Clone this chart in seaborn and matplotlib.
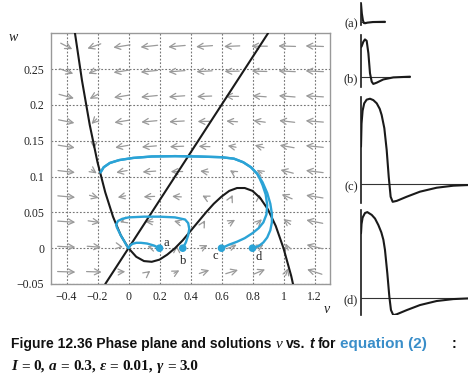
import numpy as np
import pandas as pd
import seaborn as sns
import matplotlib
matplotlib.use('Agg')
import matplotlib.pyplot as plt
from matplotlib.transforms import blended_transform_factory

# ---- values ----
# cubic nullcline (dv/dt = 0)
cubic_v = [-0.35, -0.30, -0.25, -0.20, -0.15, -0.10, -0.05, 0.00, 0.05, 0.10, 0.15,
           0.20, 0.25, 0.30, 0.35, 0.40, 0.45, 0.50, 0.55, 0.60, 0.65, 0.70, 0.75,
           0.80, 0.85, 0.90, 0.95, 1.00, 1.05, 1.10]
cubic_w = [0.307, 0.234, 0.172, 0.120, 0.078, 0.044, 0.018, 0.000, -0.012, -0.018, -0.019,
           -0.016, -0.009, 0.000, 0.011, 0.024, 0.037, 0.050, 0.062, 0.072, 0.080, 0.084, 0.084,
           0.080, 0.070, 0.054, 0.031, 0.000, -0.039, -0.088]
# straight nullcline (dw/dt = 0)
line_v = [-0.15, 0.90]
line_w = [-0.05, 0.30]

# trajectories from the four starting points
traj_a_v = [0.20, 0.16, 0.12, 0.08, 0.05, 0.025, 0.01, 0.0]
traj_a_w = [0.0, 0.004, 0.0065, 0.0075, 0.0075, 0.006, 0.0035, 0.0]
traj_b_v = [0.35, 0.37, 0.385, 0.392, 0.385, 0.365, 0.30, 0.20, 0.10, 0.0, -0.04, -0.068,
            -0.08, -0.075, -0.05, -0.03, -0.01, 0.0]
traj_b_w = [0.0, 0.008, 0.018, 0.027, 0.035, 0.040, 0.043, 0.044, 0.044, 0.043, 0.041, 0.038,
            0.033, 0.029, 0.018, 0.0106, 0.003, 0.0]
loop_v = [0.83, 0.79, 0.74, 0.68, 0.60, 0.45, 0.30, 0.15, 0.03, -0.06, -0.12, -0.16, -0.18]
loop_w = [0.104, 0.113, 0.120, 0.125, 0.127, 0.128, 0.1285, 0.128, 0.126, 0.123, 0.119, 0.113, 0.106]
traj_c_v = [0.60, 0.65, 0.70, 0.75, 0.80, 0.84, 0.87, 0.89, 0.895, 0.885, 0.865, 0.845] + loop_v
traj_c_w = [0.0, 0.005, 0.009, 0.014, 0.021, 0.028, 0.036, 0.047, 0.060, 0.075, 0.088, 0.098] + loop_w
traj_d_v = [0.80, 0.84, 0.87, 0.895, 0.915, 0.925, 0.925, 0.915, 0.895, 0.865] + loop_v
traj_d_w = [0.0, 0.003, 0.008, 0.015, 0.025, 0.036, 0.048, 0.062, 0.077, 0.092] + loop_w

start_v = [0.20, 0.35, 0.60, 0.80]
start_w = [0.0, 0.0, 0.0, 0.0]
start_lbl = ['a', 'b', 'c', 'd']

# direction field (rows follow grid_w, columns follow grid_v)
grid_v = [-0.4, -0.222, -0.044, 0.133, 0.311, 0.489, 0.667, 0.844, 1.022, 1.2]
grid_w = [-0.033, 0.002, 0.037, 0.072, 0.107, 0.142, 0.177, 0.212, 0.247, 0.282]
dv_dt = [
    [0.425, 0.175, 0.049, 0.014, 0.035, 0.080, 0.115, 0.105, 0.017, -0.183],
    [0.390, 0.140, 0.014, -0.021, 0.000, 0.045, 0.080, 0.070, -0.018, -0.218],
    [0.355, 0.105, -0.021, -0.056, -0.035, 0.010, 0.045, 0.035, -0.053, -0.253],
    [0.320, 0.070, -0.056, -0.091, -0.070, -0.025, 0.010, 0.000, -0.088, -0.288],
    [0.285, 0.035, -0.091, -0.126, -0.105, -0.060, -0.025, -0.035, -0.123, -0.323],
    [0.250, 0.000, -0.126, -0.161, -0.140, -0.095, -0.060, -0.070, -0.158, -0.358],
    [0.215, -0.035, -0.161, -0.196, -0.175, -0.130, -0.095, -0.105, -0.193, -0.393],
    [0.180, -0.070, -0.196, -0.231, -0.210, -0.165, -0.130, -0.140, -0.228, -0.428],
    [0.145, -0.105, -0.231, -0.266, -0.245, -0.200, -0.165, -0.175, -0.263, -0.463],
    [0.110, -0.140, -0.266, -0.301, -0.280, -0.235, -0.200, -0.210, -0.298, -0.498],
]
# dw/dt, in units of 0.01
dw_dt_x100 = [
    [-0.301, -0.123, 0.055, 0.232, 0.410, 0.588, 0.766, 0.943, 1.121, 1.299],
    [-0.406, -0.228, -0.050, 0.127, 0.305, 0.483, 0.661, 0.838, 1.016, 1.194],
    [-0.511, -0.333, -0.155, 0.022, 0.200, 0.378, 0.556, 0.733, 0.911, 1.089],
    [-0.616, -0.438, -0.260, -0.083, 0.095, 0.273, 0.451, 0.628, 0.806, 0.984],
    [-0.721, -0.543, -0.365, -0.188, -0.010, 0.168, 0.346, 0.523, 0.701, 0.879],
    [-0.826, -0.648, -0.470, -0.293, -0.115, 0.063, 0.241, 0.418, 0.596, 0.774],
    [-0.931, -0.753, -0.575, -0.398, -0.220, -0.042, 0.136, 0.313, 0.491, 0.669],
    [-1.036, -0.858, -0.680, -0.503, -0.325, -0.147, 0.031, 0.208, 0.386, 0.564],
    [-1.141, -0.963, -0.785, -0.608, -0.430, -0.252, -0.074, 0.103, 0.281, 0.459],
    [-1.246, -1.068, -0.890, -0.713, -0.535, -0.357, -0.179, -0.002, 0.176, 0.354],
]

x_ticks = [-0.4, -0.2, 0.0, 0.2, 0.4, 0.6, 0.8, 1.0, 1.2]
x_tick_labels = ['\u22120.4', '\u22120.2', '0', '0.2', '0.4', '0.6', '0.8', '1', '1.2']
y_ticks = [-0.05, 0.0, 0.05, 0.1, 0.15, 0.2, 0.25]
y_tick_labels = ['\u22120.05', '0', '0.05', '0.1', '0.15', '0.2', '0.25']

# v vs t panels
ts_a_t = [0, 0.8, 1.8, 2.8, 4.0, 6.0, 11.0, 22.4]
ts_a_v = [0.20, 0.09, 0.015, -0.015, -0.016, -0.010, -0.003, 0.0]
ts_b_t = [0, 0.6, 2.2, 3.7, 5.3, 6.9, 8.4, 10.0, 11.5, 14.7, 20.9, 30.2, 45.8]
ts_b_v = [0.32, 0.33, 0.38, 0.405, 0.39, 0.254, 0.037, -0.054, -0.079, -0.065, -0.030, -0.008, 0.0]
ts_c_t = [0, 0.5, 1.5, 3.0, 5.3, 8.4, 11.5, 14.7, 17.5, 19.3, 21.8, 24.0, 25.9, 27.7, 29.6,
          33.4, 42.7, 55.1, 70.7, 86.3, 100]
ts_c_v = [0.41, 0.66, 0.80, 0.88, 0.92, 0.93, 0.915, 0.88, 0.82, 0.753, 0.61, 0.373, 0.083,
          -0.135, -0.19, -0.18, -0.135, -0.08, -0.037, -0.015, -0.008]
ts_d_t = [0, 0.5, 1.5, 3.7, 5.9, 10.0, 13.1, 16.2, 19.0, 20.9, 22.4, 24.6, 26.5, 28.0, 30.2,
          33.4, 42.7, 55.1, 70.7, 86.3, 100]
ts_d_v = [0.70, 0.80, 0.87, 0.92, 0.93, 0.90, 0.86, 0.79, 0.71, 0.63, 0.52, 0.265, 0.01,
          -0.134, -0.19, -0.18, -0.135, -0.08, -0.036, -0.015, -0.008]

# ---- drawing ----
sns.set_theme(style='white')
plt.rcParams['font.family'] = ['Liberation Serif', 'DejaVu Serif']
plt.rcParams['axes.unicode_minus'] = True

W, H = 474, 377
fig = plt.figure(figsize=(W / 100, H / 100), dpi=100)
fig.patch.set_facecolor('white')

blue = '#2ba3d6'
ax = fig.add_axes([51 / W, 93 / H, 279 / W, 250.7 / H])
ax.set_xlim(-0.5, 1.3)
ax.set_ylim(-0.05, 0.3)
ax.set_xticks(x_ticks)
ax.set_xticklabels(x_tick_labels)
ax.set_yticks(y_ticks)
ax.set_yticklabels(y_tick_labels)
ax.tick_params(length=0, labelsize=8.5, colors='#222222', pad=5)
ax.grid(True, linestyle=(0, (1.6, 1.6)), color='#777777', linewidth=0.8)
ax.set_axisbelow(True)
for sp in ax.spines.values():
    sp.set_color('#999999')
    sp.set_linewidth(1.0)

# direction field arrows
sx = ax.bbox.width / 1.8
sy = ax.bbox.height / 0.35
for j, w0 in enumerate(grid_w):
    for i, v0 in enumerate(grid_v):
        px = dv_dt[j][i] * sx
        py = dw_dt_x100[j][i] * 0.01 * sy
        m = np.hypot(px, py)
        if m == 0:
            continue
        L = 18 * (1 - np.exp(-m / 15))
        du = px / m * L / sx
        dw = py / m * L / sy
        ax.annotate('', xy=(v0 + du / 2, w0 + dw / 2), xytext=(v0 - du / 2, w0 - dw / 2),
                    arrowprops=dict(arrowstyle='->,head_length=0.35,head_width=0.18',
                                    color='#9a9a9a', lw=0.9, shrinkA=0, shrinkB=0),
                    zorder=2)

sns.lineplot(x=cubic_v, y=cubic_w, sort=False, estimator=None, color='#1a1a1a', lw=1.5, ax=ax, zorder=3)
sns.lineplot(x=line_v, y=line_w, sort=False, estimator=None, color='#1a1a1a', lw=1.5, ax=ax, zorder=3)

for tv, tw in [(traj_a_v, traj_a_w), (traj_b_v, traj_b_w), (traj_c_v, traj_c_w), (traj_d_v, traj_d_w)]:
    sns.lineplot(x=tv, y=tw, sort=False, estimator=None, color=blue, lw=1.7, ax=ax, zorder=4)

sns.scatterplot(x=start_v, y=start_w, color=blue, s=30, edgecolor='none', ax=ax, zorder=5)
offsets = [(7, 5), (0, -13), (-6, -8), (6, -9)]
for v0, w0, lbl, off in zip(start_v, start_w, start_lbl, offsets):
    ax.annotate(lbl, xy=(v0, w0), xytext=off, textcoords='offset pixels',
                ha='center', va='center', fontsize=9, color='#222222')

ax.text(-0.136, 0.985, 'w', transform=ax.transAxes, fontsize=10, style='italic',
        ha='center', va='center', color='#222222')
ax.text(0.99, -0.1, 'v', transform=ax.transAxes, fontsize=10, style='italic',
        ha='center', va='center', color='#222222')

# right-hand v vs t panels: (bottom px from top, top px from top, ylim)
panels = [
    ('(a)', ts_a_t, ts_a_v, 3.3, 25.0, (-0.036, 0.205)),
    ('(b)', ts_b_t, ts_b_v, 35.0, 86.7, (-0.109, 0.453)),
    ('(c)', ts_c_t, ts_c_v, 96.7, 203.0, (-0.203, 0.952)),
    ('(d)', ts_d_t, ts_d_v, 210.0, 315.0, (-0.188, 0.953)),
]
for lbl, tt, vv, top, bot, ylim in panels:
    pax = fig.add_axes([361 / W, (H - bot) / H, 107 / W, (bot - top) / H])
    pax.set_xlim(0, 100)
    pax.set_ylim(*ylim)
    pax.set_facecolor('none')
    for k in ['top', 'right', 'bottom']:
        pax.spines[k].set_visible(False)
    pax.spines['left'].set_color('#1a1a1a')
    pax.spines['left'].set_linewidth(1.2)
    pax.set_xticks([])
    pax.set_yticks([])
    pax.hlines(0, 0, max(tt), color='#333333', lw=0.8)
    sns.lineplot(x=tt, y=vv, sort=False, estimator=None, color='#1a1a1a', lw=1.5, ax=pax)
    pax.annotate(lbl, xy=(0, 0), xycoords=blended_transform_factory(pax.transAxes, pax.transData),
                 xytext=(-3, -3), textcoords='offset pixels', ha='right', va='center',
                 fontsize=9, color='#222222')

# caption
r = fig.canvas.get_renderer()
sans_b = dict(family='Liberation Sans', weight='bold', fontsize=10, color='#111111')
sans_bi = dict(family='Liberation Sans', weight='bold', style='italic', fontsize=10, color='#111111')
serif_i = dict(family='Liberation Serif', style='italic', fontsize=11, color='#111111')
link = dict(family='Liberation Sans', weight='bold', fontsize=11, color='#3a8ec9')
serif_b = dict(family='Liberation Serif', weight='bold', fontsize=11, color='#111111')
serif_bi = dict(family='Liberation Serif', weight='bold', style='italic', fontsize=11, color='#111111')


def width_of(s, kw):
    t = fig.text(0, 0, s, **kw)
    w = t.get_window_extent(renderer=r).width
    t.remove()
    return w


def put_line(pieces, x_px, base_px):
    x = x_px
    for s, kw, gap in pieces:
        fig.text(x / W, (H - base_px) / H, s, va='baseline', ha='left', **kw)
        x += width_of(s, kw)
        if gap:
            x += width_of('x x', kw) - width_of('xx', kw)


put_line([('Figure 12.36 Phase plane and solutions', sans_b, True),
          ('v', serif_i, True), ('vs.', sans_b, True), ('t', sans_bi, True),
          ('for', sans_b, True), ('equation (2)', link, False)], 11, 348)
fig.text(452 / W, (H - 348) / H, ':', va='baseline', ha='left', **sans_b)
put_line([('I', serif_bi, True), ('=', serif_b, True), ('0,', serif_b, True),
          ('a', serif_bi, True), ('=', serif_b, True), ('0.3,', serif_b, True),
          ('\u03b5', serif_bi, True), ('=', serif_b, True), ('0.01,', serif_b, True),
          ('\u03b3', serif_bi, True), ('=', serif_b, True), ('3.0', serif_b, False)], 11, 370)

plt.savefig('out.png', dpi=100)
